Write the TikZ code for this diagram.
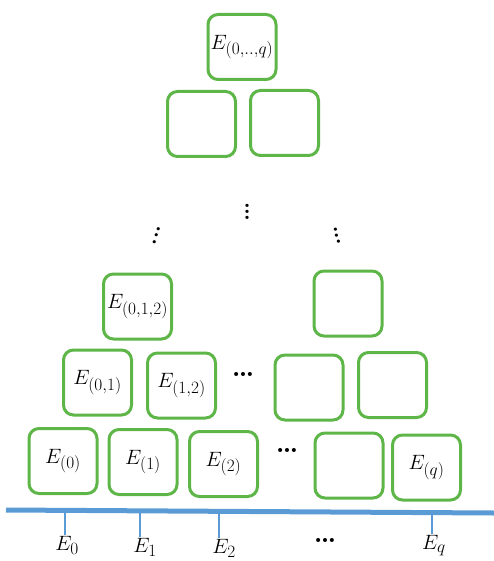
\documentclass[tikz,border=0pt]{standalone}
\usepackage{amsmath}
\DeclareMathSizes{20.74}{20.74}{17.28}{14.4}
\definecolor{boxgreen}{RGB}{94,182,72}
\definecolor{axisblue}{RGB}{91,155,213}
\tikzset{
  cell/.style={draw=boxgreen,line width=3pt,rounded corners=10pt,
    minimum width=68pt,minimum height=65pt,inner sep=0pt,font=\fontsize{20.74}{24}\selectfont},
  axis/.style={draw=axisblue,line width=5pt},
  tick/.style={draw=axisblue,line width=1.5pt},
  lbl/.style={inner sep=1pt,font=\fontsize{20.74}{24}\selectfont},
  gap/.style={inner sep=0pt,scale=1.35,font=\fontsize{20.74}{24}\selectfont\bfseries},
  vgap/.style={inner sep=0pt,scale=1.6,font=\fontsize{24.88}{28}\selectfont\boldmath}
}
\begin{document}
\begin{tikzpicture}[x=1pt,y=-1pt]
  \useasboundingbox (0,0) rectangle (494,561);
  % top of the pyramid
  \node[cell] (top) at (242,47) {$E_{(0,..,q)}$};
  \node[cell] (ul) at (201.5,124) {};
  \node[cell] (ur) at (284.5,123) {};
  \node[vgap] (dm) at (247,207) {$\vdots$};
  \node[vgap,rotate=-15] (dl) at (158,231) {$\vdots$};
  \node[vgap,rotate=15] (dr) at (336,231) {$\vdots$};
  % lower rows
  \node[cell] (c012) at (137.5,306.5) {$E_{(0,1,2)}$};
  \node[cell] (cr3) at (348,303.5) {};
  \node[cell] (c01) at (97.5,382.5) {$E_{(0,1)}$};
  \node[cell] (c12) at (181.5,385.5) {$E_{(1,2)}$};
  \node[gap] (h2) at (243,374) {\dots};
  \node[cell] (cr2a) at (309,387.5) {};
  \node[cell] (cr2b) at (392.5,385) {};
  \node[cell] (c0) at (63,461) {$E_{(0)}$};
  \node[cell] (c1) at (143,462) {$E_{(1)}$};
  \node[cell] (c2) at (223.5,464) {$E_{(2)}$};
  \node[gap] (h1) at (287,450) {\dots};
  \node[cell] (cr1) at (349,465.5) {};
  \node[cell] (cq) at (426.5,467.5) {$E_{(q)}$};
  % base line
  \draw[axis] (6,510) -- (494,513);
  \coordinate (t0) at (65,511);
  \coordinate (t1) at (140,511.5);
  \coordinate (t2) at (219,512);
  \coordinate (tq) at (432,513);
  \node[lbl] (e0) at (67,545) {$E_0$};
  \node[lbl] (e1) at (145,547) {$E_1$};
  \node[lbl] (e2) at (224,548) {$E_2$};
  \node[gap] (h0) at (325,540) {\dots};
  \node[lbl] (eq) at (434,546) {$E_q$};
  \draw[tick] (t0) -- (t0 |- e0.north);
  \draw[tick] (t1) -- (t1 |- e1.north);
  \draw[tick] (t2) -- (t2 |- e2.north);
  \draw[tick] (tq) -- (tq |- eq.north);
\end{tikzpicture}
\end{document}
